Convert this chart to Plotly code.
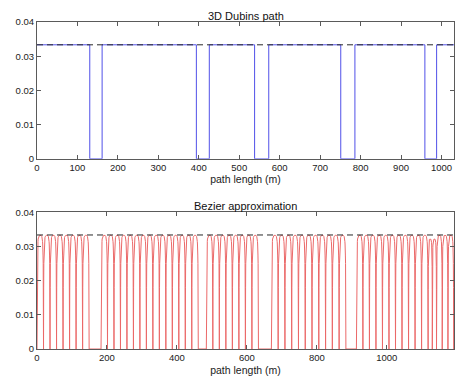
import numpy as np
import plotly.graph_objects as go
from plotly.subplots import make_subplots

# ---------------- data ----------------
k_max = 1 / 30.0  # maximum curvature (dashed reference line)

# 3D Dubins path: curvature steps (segment boundaries and value on each segment)
dubins_breaks = [0, 130.5, 161, 394, 426, 538, 573, 751, 786, 959, 988, 1031]
dubins_values = [k_max, 0, k_max, 0, k_max, 0, k_max, 0, k_max, 0, k_max]

# Bezier approximation: groups of curvature humps
bez_group_start = [0, 183, 484, 670, 913, 1118, 1142]
bez_group_end = [149, 461, 633, 883, 1118, 1142, 1191]
bez_group_humps = [8, 15, 8, 11, 11, 2, 3]
bez_group_peak = [0.0333, 0.0333, 0.0333, 0.0333, 0.0333, 0.0322, 0.0333]

# normalised shape of one hump (position in hump, fraction of peak)
hump_t = [0, 0.02, 0.05, 0.1, 0.18, 0.3, 0.5, 0.7, 0.82, 0.9, 0.95, 0.98, 1]
hump_v = [0, 0.5, 0.75, 0.9, 0.97, 0.995, 1, 0.995, 0.97, 0.9, 0.75, 0.5, 0]

top_xmax = 1031
bot_xmax = 1192

# ---------------- build traces ----------------
dub_x = dubins_breaks
dub_y = dubins_values + [dubins_values[-1]]

bz_x, bz_y = [], []
tt = np.linspace(0, 1, 41)
shape = np.interp(tt, hump_t, hump_v)
for s, e, n, pk in zip(bez_group_start, bez_group_end, bez_group_humps, bez_group_peak):
    w = (e - s) / n
    for i in range(n):
        bz_x.extend(list(s + (i + tt) * w))
        bz_y.extend(list(shape * pk))

fig = make_subplots(rows=2, cols=1, vertical_spacing=0.163)

fig.add_trace(go.Scatter(x=dub_x, y=dub_y, mode="lines", line_shape="hv",
                         line=dict(color="rgb(80,80,232)", width=1), showlegend=False),
              row=1, col=1)
fig.add_trace(go.Scatter(x=[0, top_xmax], y=[k_max, k_max], mode="lines",
                         line=dict(color="rgb(40,40,40)", width=1, dash="6px,4px"),
                         showlegend=False), row=1, col=1)

fig.add_trace(go.Scatter(x=bz_x, y=bz_y, mode="lines",
                         line=dict(color="rgb(235,105,105)", width=1), showlegend=False),
              row=2, col=1)
fig.add_trace(go.Scatter(x=[0, bot_xmax], y=[k_max, k_max], mode="lines",
                         line=dict(color="rgb(40,40,40)", width=1, dash="6px,4px"),
                         showlegend=False), row=2, col=1)

axis_common = dict(showgrid=False, zeroline=False, showline=True, mirror="ticks",
                   linecolor="rgb(90,90,90)", linewidth=1, ticks="inside", ticklen=4,
                   tickcolor="rgb(90,90,90)", tickfont=dict(size=9.5, color="#222"),
                   automargin=False)

fig.update_xaxes(range=[0, top_xmax], dtick=100, tick0=0, row=1, col=1, **axis_common,
                 title=dict(text="path length (m)", font=dict(size=10.5, color="#222"), standoff=2))
fig.update_xaxes(range=[0, bot_xmax], dtick=200, tick0=0, row=2, col=1, **axis_common,
                 title=dict(text="path length (m)", font=dict(size=10.5, color="#222"), standoff=4))
fig.update_yaxes(range=[0, 0.04], dtick=0.01, tick0=0, **axis_common)

fig.update_layout(
    width=474, height=387,
    margin=dict(l=37, r=20, t=22, b=38),
    plot_bgcolor="white", paper_bgcolor="white",
    font=dict(family="Liberation Sans, Arial, sans-serif", color="#222"),
    annotations=[
        dict(text="3D Dubins path", x=0.5, y=1.0, xref="paper", yref="paper",
             xanchor="center", yanchor="bottom", showarrow=False, yshift=-2,
             font=dict(size=11, color="#111")),
        dict(text="Bezier approximation", x=0.5, y=0.4184, xref="paper", yref="paper",
             xanchor="center", yanchor="bottom", showarrow=False, yshift=-2,
             font=dict(size=11, color="#111")),
    ],
)
fig.update_xaxes(domain=[0, 1])
fig.layout.yaxis.domain = [0.5816, 1]
fig.layout.yaxis2.domain = [0, 0.4184]

fig.write_html("out.html", config={"displayModeBar": False},
               post_script="document.body.style.margin='0';")
